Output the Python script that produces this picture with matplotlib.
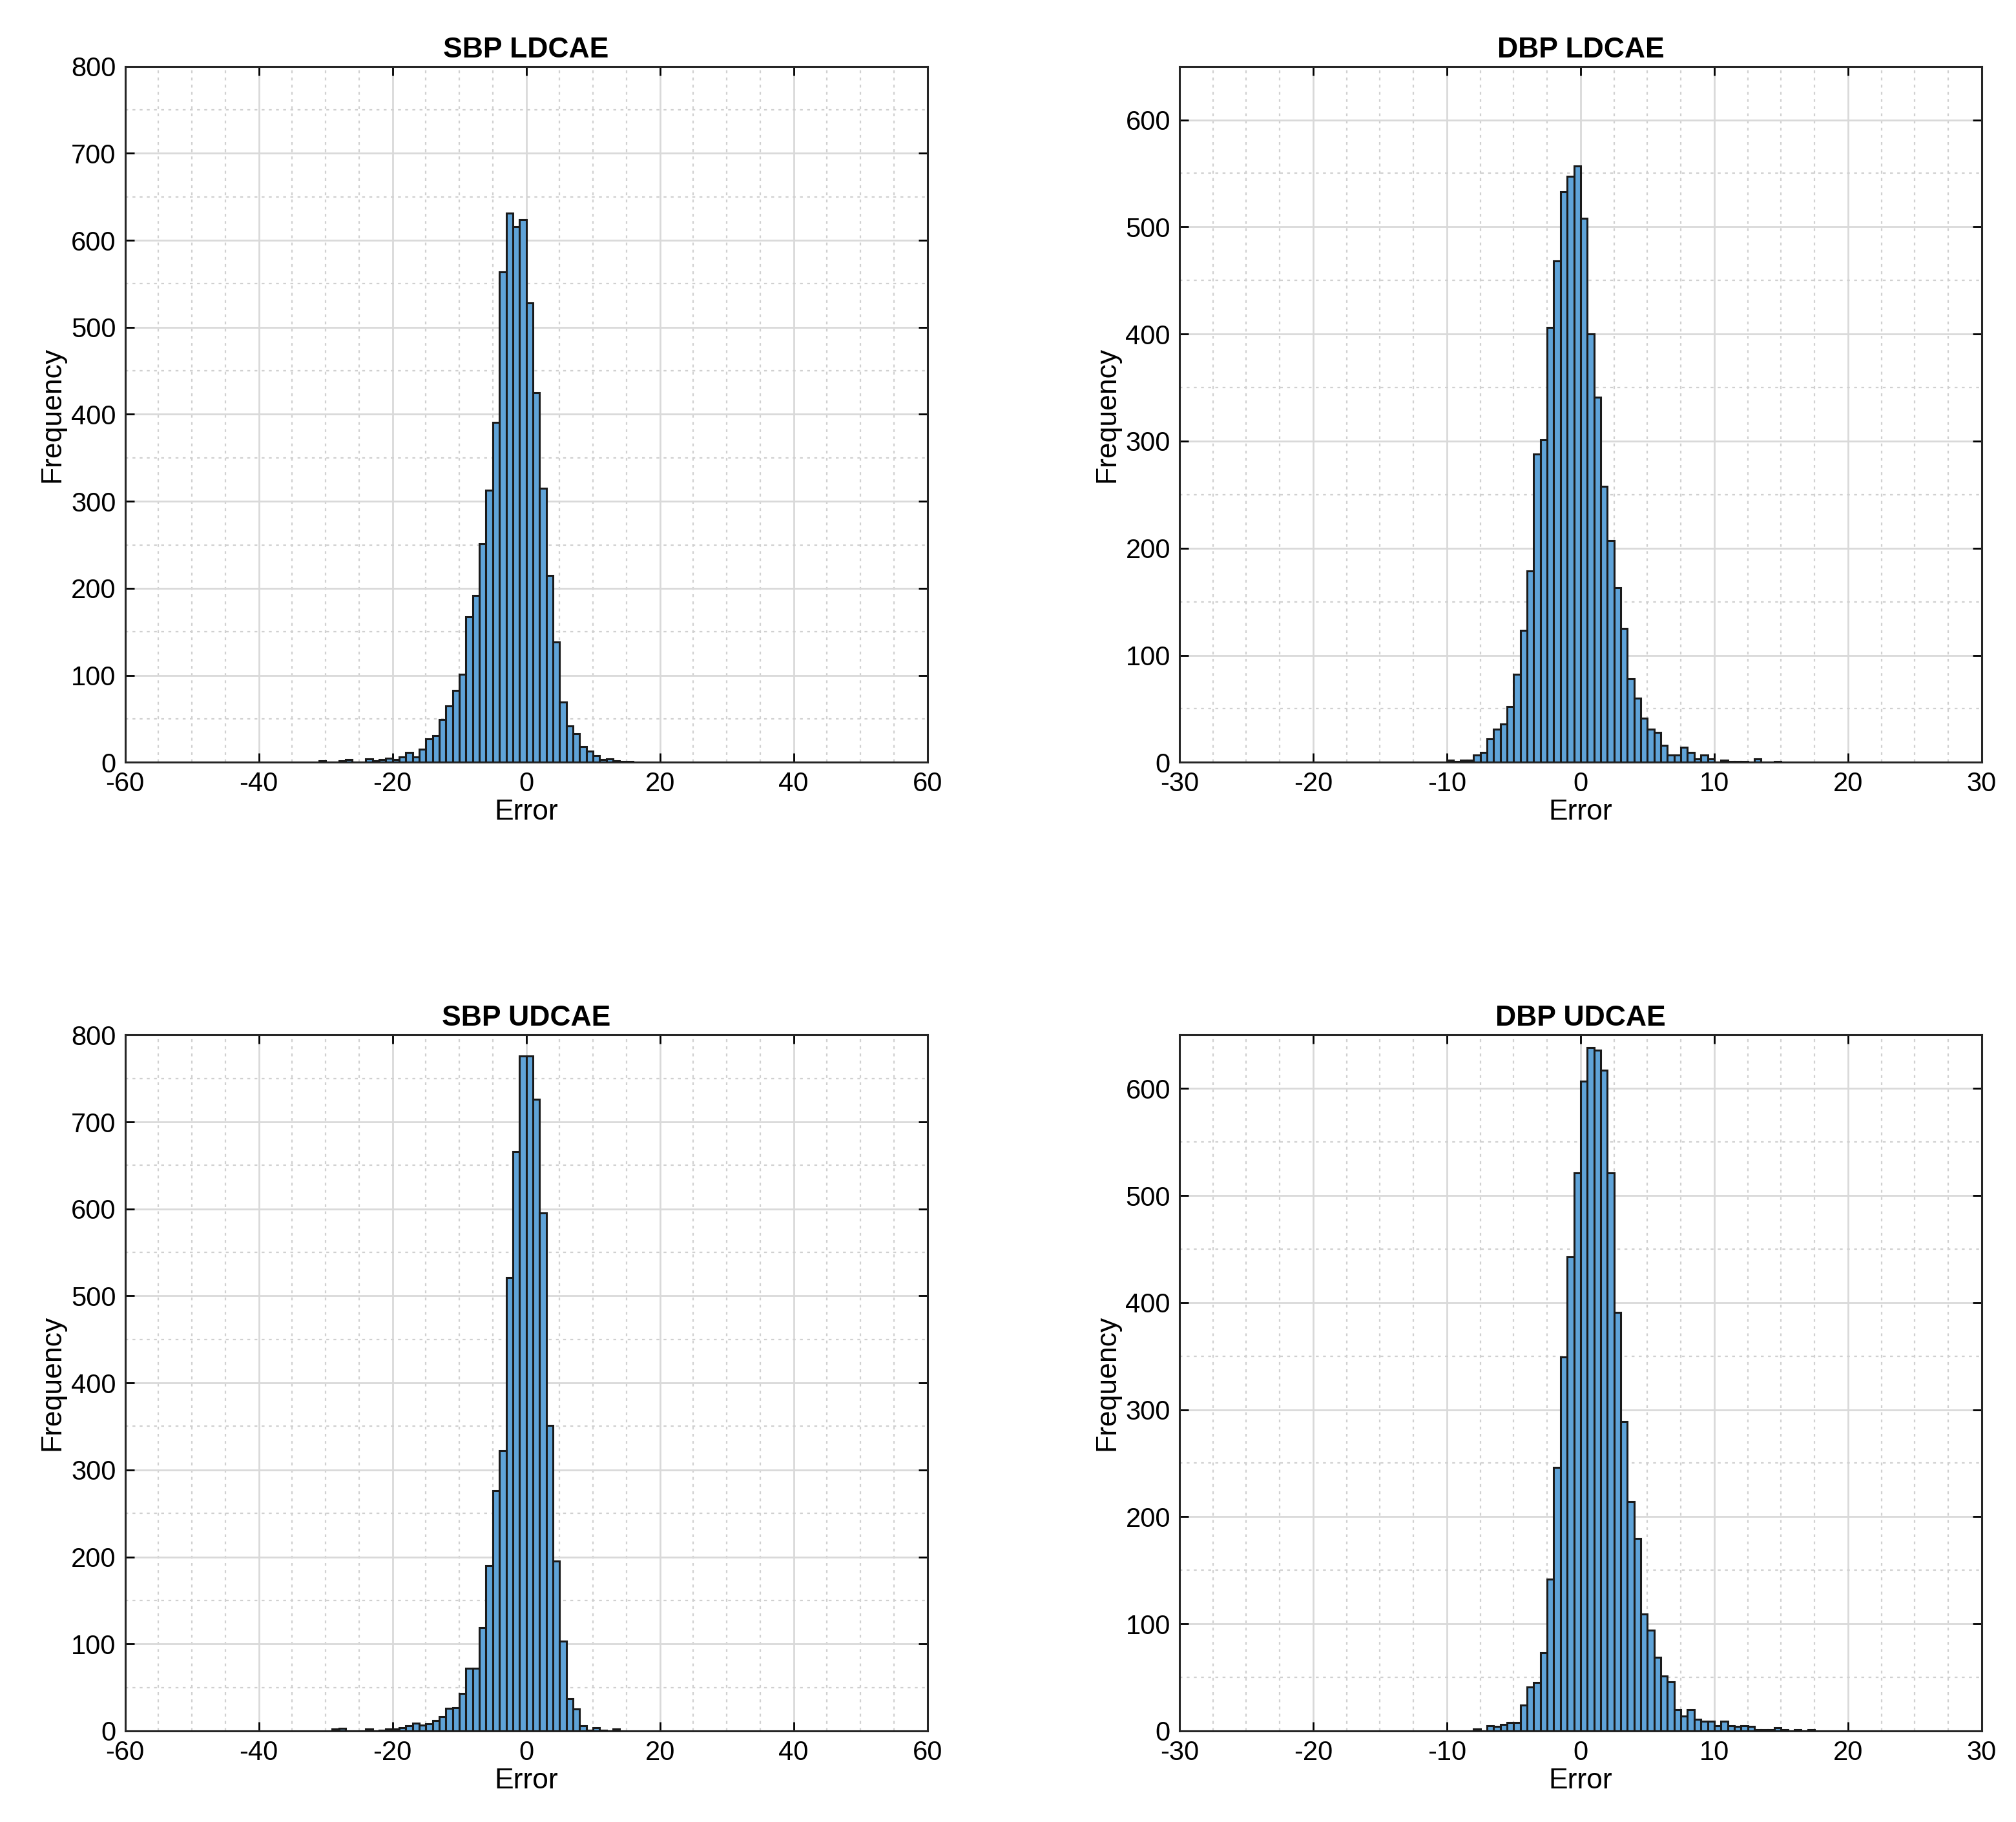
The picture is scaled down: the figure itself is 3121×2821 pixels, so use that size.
import numpy as np
import matplotlib
matplotlib.use("Agg")
import matplotlib.pyplot as plt
from matplotlib.ticker import MultipleLocator

plt.rcParams['font.family'] = ['Liberation Sans', 'DejaVu Sans']
plt.rcParams['axes.unicode_minus'] = False

# SBP LDCAE: bin width 1, first bin left edge -31
sbp_ld_start = -31
sbp_ld_counts = [2, 0, 0, 2, 3, 0, 0, 4, 2, 3, 5,
                 3, 6, 11, 6, 15, 27, 31, 49, 65, 83, 101, 167, 192, 251, 313, 391,
                 564, 631, 616, 624, 528, 425, 315, 215, 138, 69, 42, 33, 18, 13, 8, 3, 4, 2, 1, 1]

# DBP LDCAE: bin width 0.5, first bin left edge -10
dbp_ld_start = -10
dbp_ld_counts = [2, 1, 2, 2, 7, 9, 22, 31, 36, 52, 82, 123, 179, 288, 301, 406, 468, 533, 547, 557,
                 508, 400, 341, 258, 207, 163, 125, 78, 60, 41, 31, 28, 16, 7, 7, 14, 9, 3, 7, 3,
                 0, 2, 1, 1, 1, 0, 3, 0, 0, 1]

# SBP UDCAE: bin width 1, first bin left edge -29
sbp_ud_start = -29
sbp_ud_counts = [2, 3, 0, 0, 0, 2, 0, 1, 2,
                 2, 4, 6, 9, 7, 8, 12, 16, 26, 27, 43, 72, 72, 119, 190, 276, 322, 521, 666,
                 776, 776, 726, 595, 351, 195, 103, 37, 25, 6, 1, 4, 1, 0, 2]

# DBP UDCAE: bin width 0.5, first bin left edge -8
dbp_ud_start = -8
dbp_ud_counts = [2, 0, 5, 4, 6, 8, 8, 24, 41, 45, 73, 142, 246, 349, 443, 521, 607,
                 638, 636, 617, 521, 391, 289, 214, 180, 109, 94, 69, 51, 46, 20, 14, 20, 11, 9,
                 9, 5, 9, 5, 4, 5, 4, 1, 1, 1, 3, 1, 0, 1, 0, 1]

panels = [
    ("SBP LDCAE", sbp_ld_start, 1.0, sbp_ld_counts, (-60, 60), 20, 5, (0, 800), 100, 50),
    ("DBP LDCAE", dbp_ld_start, 0.5, dbp_ld_counts, (-30, 30), 10, 2.5, (0, 650), 100, 50),
    ("SBP UDCAE", sbp_ud_start, 1.0, sbp_ud_counts, (-60, 60), 20, 5, (0, 800), 100, 50),
    ("DBP UDCAE", dbp_ud_start, 0.5, dbp_ud_counts, (-30, 30), 10, 2.5, (0, 650), 100, 50),
]

positions = [
    [0.062, 0.5816, 0.398, 0.382],
    [0.585, 0.5816, 0.398, 0.382],
    [0.062, 0.050, 0.398, 0.382],
    [0.585, 0.050, 0.398, 0.382],
]

fig = plt.figure(figsize=(31.21, 28.21), dpi=100)
for (title, start, bw, counts, xl, xmaj, xmin, yl, ymaj, ymin), pos in zip(panels, positions):
    ax = fig.add_axes(pos)
    edges = start + bw * np.arange(len(counts))
    ax.bar(edges, counts, width=bw, align='edge', color='#5fa3d8',
           edgecolor='#1a1a1a', linewidth=2.2, zorder=3)
    ax.set_xlim(*xl)
    ax.set_ylim(*yl)
    ax.xaxis.set_major_locator(MultipleLocator(xmaj))
    ax.xaxis.set_minor_locator(MultipleLocator(xmin))
    ax.yaxis.set_major_locator(MultipleLocator(ymaj))
    ax.yaxis.set_minor_locator(MultipleLocator(ymin))
    ax.grid(which='major', color='#d9d9d9', linewidth=2.0, linestyle='-', zorder=0)
    ax.grid(which='minor', color='#d0d0d0', linewidth=1.6, linestyle=(0, (2, 3)), zorder=0)
    ax.set_axisbelow(True)
    ax.tick_params(which='both', direction='in', top=True, right=True, labelsize=30,
                   width=2, pad=10)
    ax.tick_params(which='major', length=10)
    ax.tick_params(which='minor', length=0)
    for s in ax.spines.values():
        s.set_linewidth(2.2)
        s.set_color('#262626')
    ax.set_title(title, fontsize=32, fontweight='bold', pad=10)
    ax.set_xlabel("Error", fontsize=32, labelpad=2)
    ax.set_ylabel("Frequency", fontsize=32, labelpad=6)

fig.savefig("out.png", dpi=100, facecolor='white')
